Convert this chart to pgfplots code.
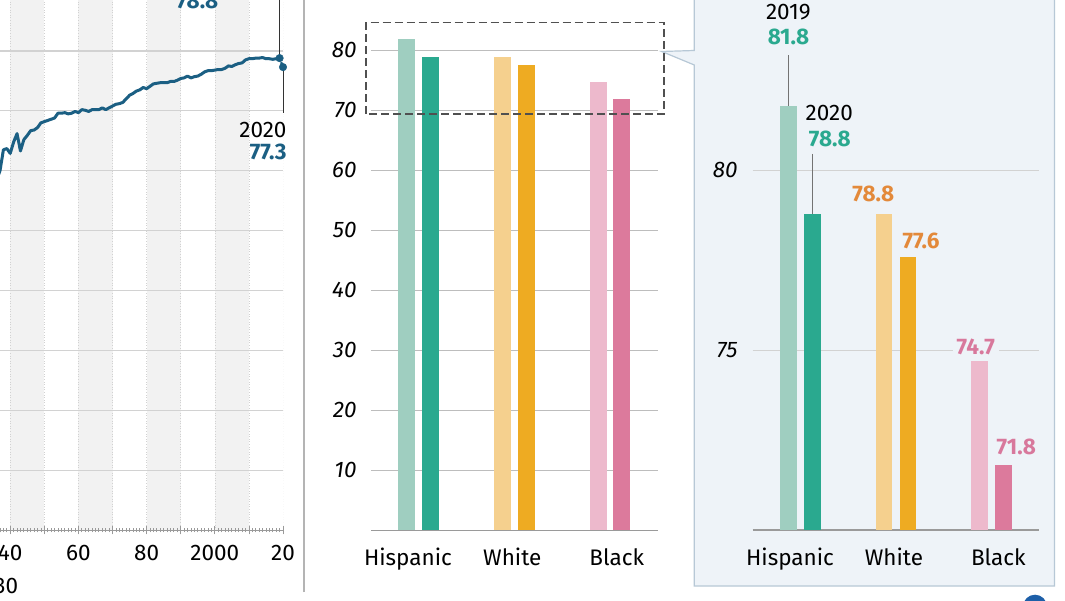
\documentclass[border=0pt]{standalone}
\usepackage{pgfplots}
\pgfplotsset{compat=1.18}
\usepackage{pgfplotstable}
\usepackage{fontspec}
\setmainfont{Fira Sans}
\newcommand{\myfont}{\fontsize{22.5}{27}\selectfont}
\definecolor{lineblue}{HTML}{1B5F83}
\definecolor{bandgray}{HTML}{F2F2F2}
\definecolor{gridgray}{HTML}{D2D2D2}
\definecolor{basegray}{HTML}{9A9A9A}
\definecolor{sepgray}{HTML}{B4B4B4}
\definecolor{panelbg}{HTML}{EEF3F8}
\definecolor{panelborder}{HTML}{B7C8D6}
\definecolor{dashgray}{HTML}{505050}
\definecolor{hA}{HTML}{9FCEC0}
\definecolor{hB}{HTML}{2AA98F}
\definecolor{wA}{HTML}{F5D08E}
\definecolor{wB}{HTML}{EEAB22}
\definecolor{bA}{HTML}{EDB9CC}
\definecolor{bB}{HTML}{DC7A9C}
\definecolor{tealtxt}{HTML}{2AA98F}
\definecolor{orangetxt}{HTML}{E3893A}
\definecolor{pinktxt}{HTML}{D8789C}
\definecolor{logoblue}{HTML}{1D5FA8}

\pgfplotstableread{
year le
1936 58.5
1937 60.0
1938 63.5
1939 63.7
1940 62.9
1941 64.8
1942 66.2
1943 63.3
1944 65.2
1945 65.9
1946 66.7
1947 66.8
1948 67.2
1949 68.0
1950 68.2
1951 68.4
1952 68.6
1953 68.8
1954 69.6
1955 69.6
1956 69.7
1957 69.5
1958 69.6
1959 69.9
1960 69.7
1961 70.2
1962 70.1
1963 69.9
1964 70.2
1965 70.2
1966 70.2
1967 70.5
1968 70.2
1969 70.5
1970 70.8
1971 71.1
1972 71.2
1973 71.4
1974 72.0
1975 72.6
1976 72.9
1977 73.3
1978 73.5
1979 73.9
1980 73.7
1981 74.1
1982 74.5
1983 74.6
1984 74.7
1985 74.7
1986 74.7
1987 74.9
1988 74.9
1989 75.1
1990 75.4
1991 75.5
1992 75.8
1993 75.5
1994 75.7
1995 75.8
1996 76.1
1997 76.5
1998 76.7
1999 76.7
2000 76.8
2001 76.9
2002 76.9
2003 77.1
2004 77.5
2005 77.4
2006 77.7
2007 77.9
2008 78.0
2009 78.5
2010 78.7
2011 78.7
2012 78.8
2013 78.8
2014 78.9
2015 78.7
2016 78.7
2017 78.6
2018 78.7
2019 78.8
}\lifetable

\begin{document}
\begin{tikzpicture}[x=1pt,y=1pt]
\useasboundingbox (0,0) rectangle (1065,600);
\clip (0,0) rectangle (1065,600);
\fill[white] (0,0) rectangle (1065,600);
\myfont

% right panel callout box
\filldraw[fill=panelbg, draw=panelborder, line width=1.2pt]
  (694.3,610) -- (694.3,549.5) -- (661.7,548.5) -- (694.3,535) -- (694.3,14)
  -- (1054.5,14) -- (1054.5,610) -- cycle;

% separator
\draw[sepgray, line width=2pt] (304,8) -- (304,600);

% left panel: decade bands
\begin{axis}[at={(0pt,69.7pt)}, anchor=south west, scale only axis,
  width=283pt, height=530.3pt, xmin=1937, xmax=2020, ymin=0, ymax=88.5, hide axis]
\fill[bandgray] (axis cs:1940,0) rectangle (axis cs:1950,88.5);
\fill[bandgray] (axis cs:1960,0) rectangle (axis cs:1970,88.5);
\fill[bandgray] (axis cs:1980,0) rectangle (axis cs:1990,88.5);
\fill[bandgray] (axis cs:2000,0) rectangle (axis cs:2010,88.5);
\pgfplotsinvokeforeach{1940,1950,...,2020}{
  \draw[gridgray, line width=0.6pt, dotted] (axis cs:#1,0) -- (axis cs:#1,88.5);
}
\end{axis}

% left panel: line chart
\begin{axis}[at={(0pt,69.7pt)}, anchor=south west, scale only axis,
  width=283pt, height=530.3pt, xmin=1937, xmax=2020, ymin=0, ymax=88.5,
  axis line style={draw=none},
  xtick={1940,1950,...,2020}, xticklabels={40,,60,,80,,2000,,20},
  minor xtick={1937,1938,...,2020},
  xtick pos=left, tick align=center,
  major tick length=8pt, minor tick length=4pt,
  every tick/.style={basegray, line width=0.8pt},
  xticklabel style={anchor=base, yshift=-26.4pt, inner sep=0pt, font=\myfont},
  ytick={10,20,...,80}, yticklabels={}, ytick style={draw=none},
  ymajorgrids, grid style={gridgray, line width=1.2pt},
  clip mode=individual]
\draw[basegray, line width=1.2pt] (axis cs:1937,0) -- (axis cs:2020,0);
\addplot[lineblue, line width=3pt, line join=round, mark=none] table[x=year, y=le] {\lifetable};
\addplot[lineblue, line width=2.4pt, dotted, mark=none] coordinates {(2019,78.8) (2020,77.3)};
\draw[black!80, line width=0.9pt] (axis cs:2019,78.8) -- (axis cs:2019,88.5);
\draw[black!80, line width=0.9pt] (axis cs:2020,77.3) -- (axis cs:2020,69.65);
\addplot[only marks, mark=*, mark size=3.8pt, lineblue] coordinates {(2019,78.8) (2020,77.3)};
\node[anchor=base, inner sep=0pt, text=lineblue, font=\myfont\bfseries] at (axis cs:1994.9,87.02) {78.8};
\node[anchor=base east, inner sep=0pt, font=\myfont] at (axis cs:2021.09,65.53) {2020};
\node[anchor=base east, inner sep=0pt, text=lineblue, font=\myfont\bfseries] at (axis cs:2021.09,61.81) {77.3};
\end{axis}
\node[anchor=base east, inner sep=0pt] at (18.3,7) {30};

% middle panel
\begin{axis}[at={(371pt,69.7pt)}, anchor=south west, scale only axis,
  width=286.7pt, height=530.3pt, xmin=-0.5, xmax=2.5, ymin=0, ymax=88.38,
  axis line style={draw=none},
  xtick={-0.113,0.978,2.071}, xticklabels={Hispanic,White,Black},
  xtick style={draw=none}, ytick style={draw=none},
  xticklabel style={anchor=base, yshift=-34.7pt, inner sep=0pt, font=\myfont},
  ytick={10,20,...,80},
  yticklabel style={anchor=east, inner sep=0pt, xshift=-14.3pt, font=\myfont\itshape},
  /pgf/number format/assume math mode=true,
  ymajorgrids, grid style={gridgray!90!black, line width=1.1pt},
  clip mode=individual]
\draw[basegray, line width=1.3pt] (axis cs:-0.5,0) -- (axis cs:2.5,0);
\addplot[ybar, bar width=17pt, bar shift=-11.9pt, fill=hA, draw=none] coordinates {(0,81.8)};
\addplot[ybar, bar width=17pt, bar shift=11.9pt, fill=hB, draw=none] coordinates {(0,78.8)};
\addplot[ybar, bar width=17pt, bar shift=-11.9pt, fill=wA, draw=none] coordinates {(1,78.8)};
\addplot[ybar, bar width=17pt, bar shift=11.9pt, fill=wB, draw=none] coordinates {(1,77.6)};
\addplot[ybar, bar width=17pt, bar shift=-11.9pt, fill=bA, draw=none] coordinates {(2,74.7)};
\addplot[ybar, bar width=17pt, bar shift=11.9pt, fill=bB, draw=none] coordinates {(2,71.8)};
\end{axis}

% dashed zoom rectangle
\draw[dashgray, line width=1.6pt, dash pattern=on 8pt off 4pt] (366,486) rectangle (664,577.3);

% right panel
\begin{axis}[at={(752.7pt,70pt)}, anchor=south west, scale only axis,
  width=286.3pt, height=530pt, xmin=-0.5, xmax=2.5, ymin=70, ymax=84.74,
  axis line style={draw=none},
  xtick={-0.109,0.98,2.074}, xticklabels={Hispanic,White,Black},
  xtick style={draw=none}, ytick style={draw=none},
  xticklabel style={anchor=base, yshift=-35pt, inner sep=0pt, font=\myfont},
  ytick={75,80},
  yticklabel style={anchor=east, inner sep=0pt, xshift=-15pt, font=\myfont\itshape},
  /pgf/number format/assume math mode=true,
  ymajorgrids, grid style={gridgray, line width=1.1pt},
  clip mode=individual]
\draw[basegray, line width=1.3pt] (axis cs:-0.5,70) -- (axis cs:2.5,70);
\addplot[ybar, bar width=16.7pt, bar shift=-12pt, fill=hA, draw=none] coordinates {(0,81.8)};
\addplot[ybar, bar width=16.7pt, bar shift=12pt, fill=hB, draw=none] coordinates {(0,78.8)};
\addplot[ybar, bar width=16.7pt, bar shift=-12pt, fill=wA, draw=none] coordinates {(1,78.8)};
\addplot[ybar, bar width=16.7pt, bar shift=12pt, fill=wB, draw=none] coordinates {(1,77.6)};
\addplot[ybar, bar width=16.7pt, bar shift=-12pt, fill=bA, draw=none] coordinates {(2,74.7)};
\addplot[ybar, bar width=16.7pt, bar shift=12pt, fill=bB, draw=none] coordinates {(2,71.8)};
\draw[black!55, line width=0.9pt] ([xshift=-12pt]axis cs:0,83.21) -- ([xshift=-12pt]axis cs:0,81.8);
\draw[black!55, line width=0.9pt] ([xshift=12pt]axis cs:0,80.46) -- ([xshift=12pt]axis cs:0,78.8);
\node[anchor=base, inner sep=0pt, font=\myfont] at ([xshift=-12pt]axis cs:0,84.19) {2019};
\node[anchor=base, inner sep=0pt, text=tealtxt, font=\myfont\bfseries] at ([xshift=-12pt]axis cs:0,83.49) {81.8};
\node[anchor=base, inner sep=0pt, font=\myfont] at ([xshift=28.8pt]axis cs:0,81.385) {2020};
\node[anchor=base, inner sep=0pt, text=tealtxt, font=\myfont\bfseries] at ([xshift=29.4pt]axis cs:0,80.66) {78.8};
\node[anchor=base, inner sep=0pt, text=orangetxt, font=\myfont\bfseries] at ([xshift=-22.6pt]axis cs:1,79.13) {78.8};
\node[anchor=base, inner sep=0pt, text=orangetxt, font=\myfont\bfseries] at ([xshift=25.2pt]axis cs:1,77.836) {77.6};
\node[anchor=base, inner ysep=0pt, inner xsep=4pt, fill=panelbg, text=pinktxt, font=\myfont\bfseries] at ([xshift=-15.5pt]axis cs:2,74.87) {74.7};
\node[anchor=base, inner sep=0pt, text=pinktxt, font=\myfont\bfseries] at ([xshift=25pt]axis cs:2,72.086) {71.8};
\end{axis}

% logo
\fill[logoblue] (1035,-6.7) circle (12);
\end{tikzpicture}
\end{document}
